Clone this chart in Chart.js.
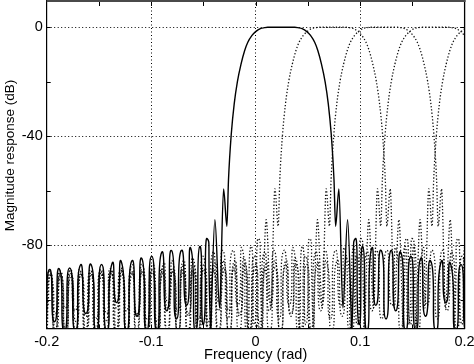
<!DOCTYPE html>
<html>
<head>
<meta charset="utf-8">
<script src="https://cdn.jsdelivr.net/npm/chart.js@4/dist/chart.umd.min.js"></script>
<style>
html,body{margin:0;padding:0;background:#fff;}
canvas{display:block;}
</style>
</head>
<body>
<canvas id="c" width="474" height="364"></canvas>
<script>
// ---- titles, tick labels / tick marks ----
const xTitle = 'Frequency (rad)';
const yTitle = 'Magnitude response (dB)';
const xTickLabels = [-0.2, -0.1, 0, 0.1, 0.2];
const yTickLabels = [-80, -40, 0];
const xTickMarks = [-0.15, -0.1, -0.05, 0, 0.05, 0.1, 0.15];
const yTickMarks = [0, -20, -40, -60, -80, -100];

// ---- channel centres (rad): first = solid prototype, rest = dotted shifted channels ----
const solidCenter = [0.0245];
const dottedCenters = [0.0736, 0.1227, 0.1718, 0.2209];

// ---- prototype magnitude response (offset from centre, dB) ----
const protoOffset = [
  0, 0.008, 0.013, 0.016, 0.020, 0.0245, 0.028, 0.032, 0.035, 0.0385, 0.042, 0.045, 0.0478, 0.0505,
  0.052, 0.0552, 0.059, 0.0635, 0.0675, 0.071, 0.0745, 0.078, 0.082, 0.0865, 0.0905, 0.0957,
  0.1003, 0.105, 0.1095, 0.1145, 0.119, 0.124, 0.1288, 0.1335, 0.138, 0.143, 0.148, 0.153,
  0.1575, 0.162, 0.167, 0.172, 0.177, 0.182, 0.187, 0.1923, 0.197, 0.2025, 0.2075, 0.2125,
  0.217, 0.222, 0.227, 0.2318, 0.2367, 0.2415, 0.2464, 0.2512, 0.2561, 0.261, 0.2658, 0.2707,
  0.2756, 0.2805, 0.2853, 0.2902, 0.2951, 0.3, 0.3049, 0.3097, 0.3146, 0.3195, 0.3244, 0.3292,
  0.3341, 0.339, 0.3439, 0.3487, 0.3536, 0.3585, 0.3634, 0.3682, 0.3731, 0.378, 0.3829, 0.3877,
  0.3926, 0.3975, 0.4024, 0.4072, 0.4121, 0.417, 0.4219, 0.4267, 0.4316, 0.4365, 0.4414
];
const protoDb = [
  0, 0, 0, -0.15, -0.5, -1.6, -3, -5.5, -8.5, -13.5, -20, -28, -39, -56,
  -73, -59.3, -103, -70.6, -112, -77.5, -109, -80.4, -111.5, -81.2, -102, -81.9,
  -107, -81.9, -104, -82.6, -111.5, -84, -111.5, -84.8, -106, -85.7, -111.5, -86.1,
  -101, -86.7, -111.5, -87, -111.5, -87.1, -105, -87.3, -111.5, -88.3, -111.5, -88.6,
  -108, -88.9, -111.5, -89, -111.5, -89.1, -104, -89.2, -111.5, -89.4, -111.5, -89.5,
  -107, -89.6, -111.5, -89.8, -111.5, -89.9, -103, -90, -111.5, -90.1, -111.5, -90.3,
  -106, -90.4, -111.5, -90.5, -111.5, -90.6, -105, -90.8, -111.5, -90.9, -111.5, -91,
  -108, -91.1, -111.5, -91.2, -111.5, -91.3, -104, -91.4, -111.5, -91.5, -111.5
];
// offset where the main-lobe region ends and the far sidelobes begin
const mainRegionEnd = 0.0675;

function channelSegments(c) {
  const k = protoOffset.indexOf(mainRegionEnd);
  const n = protoOffset.length;
  const left = [], main = [], right = [];
  for (let i = n - 1; i >= k; i--) left.push({x: c - protoOffset[i], y: protoDb[i]});
  for (let i = k; i > 0; i--) main.push({x: c - protoOffset[i], y: protoDb[i]});
  for (let i = 0; i <= k; i++) main.push({x: c + protoOffset[i], y: protoDb[i]});
  for (let i = k; i < n; i++) right.push({x: c + protoOffset[i], y: protoDb[i]});
  return {left, main, right};
}

const datasets = [];
function addChannel(c, style) {
  const s = channelSegments(c);
  datasets.push(Object.assign({data: s.main, cubicInterpolationMode: 'monotone'}, style));
  datasets.push(Object.assign({data: s.left, tension: 1}, style));
  datasets.push(Object.assign({data: s.right, tension: 1}, style));
}
const solidStyle = {borderColor: '#000', borderWidth: 1.4, pointRadius: 0, fill: false};
const dottedStyle = {borderColor: '#111', borderWidth: 1.3, borderDash: [1.3, 2], pointRadius: 0, fill: false};
solidCenter.forEach(c => addChannel(c, solidStyle));
dottedCenters.forEach(c => addChannel(c, dottedStyle));

const FAMILY = "'Liberation Sans', Arial, Helvetica, sans-serif";
const FONT = {family: FAMILY, size: 14.5};

const framePlugin = {
  id: 'framePlugin',
  afterDraw(chart) {
    const {ctx, chartArea: a, scales: {x, y}} = chart;
    ctx.save();
    ctx.strokeStyle = '#000';
    ctx.lineWidth = 1;
    ctx.beginPath();
    xTickMarks.forEach(v => {
      const p = Math.round(x.getPixelForValue(v)) + 0.5;
      ctx.moveTo(p, a.bottom); ctx.lineTo(p, a.bottom - 4);
      ctx.moveTo(p, a.top + 2); ctx.lineTo(p, a.top + 6);
    });
    yTickMarks.forEach(v => {
      const p = Math.round(y.getPixelForValue(v)) + 0.5;
      ctx.moveTo(a.left, p); ctx.lineTo(a.left + 4, p);
      ctx.moveTo(a.right, p); ctx.lineTo(a.right - 4, p);
    });
    ctx.stroke();
    // right border
    ctx.lineWidth = 1.3;
    ctx.beginPath();
    ctx.moveTo(a.right, a.top); ctx.lineTo(a.right, a.bottom + 0.5);
    ctx.stroke();
    // top border
    ctx.fillStyle = '#4a4a4a';
    ctx.fillRect(a.left, a.top, a.right - a.left + 1, 2);
    // y axis title
    ctx.translate(10, 155.5);
    ctx.rotate(-Math.PI / 2);
    ctx.fillStyle = '#000';
    ctx.font = '13.5px ' + FAMILY;
    ctx.textAlign = 'center';
    ctx.textBaseline = 'middle';
    ctx.fillText(yTitle, 0, 0);
    ctx.restore();
  }
};

new Chart(document.getElementById('c'), {
  type: 'line',
  data: {datasets},
  options: {
    responsive: false,
    animation: false,
    devicePixelRatio: 1,
    layout: {padding: 0},
    plugins: {legend: {display: false}, tooltip: {enabled: false}},
    elements: {line: {borderCapStyle: 'butt'}},
    scales: {
      x: {
        type: 'linear', min: -0.2, max: 0.2,
        afterBuildTicks: s => { s.ticks = xTickLabels.map(v => ({value: v})); },
        afterFit: s => { s.height = 35.5; s.paddingLeft = 0; s.paddingRight = 9.4; },
        ticks: {color: '#000', font: FONT, padding: 5, maxRotation: 0, autoSkip: false,
                callback: v => String(v)},
        grid: {color: '#000', lineWidth: 1, drawTicks: false},
        border: {display: true, color: '#000', width: 1.2, dash: [1, 2.5]},
        title: {display: true, text: xTitle, color: '#000', font: FONT, padding: {top: 0, bottom: 0}}
      },
      y: {
        type: 'linear', min: -110.5, max: 10,
        afterBuildTicks: s => { s.ticks = yTickLabels.map(v => ({value: v})); },
        afterFit: s => { s.width = 46.7; s.paddingTop = 0; s.paddingBottom = 0; },
        ticks: {color: '#000', font: FONT, padding: 4, callback: v => String(v)},
        grid: {color: '#000', lineWidth: 1, drawTicks: false},
        border: {display: true, color: '#000', width: 1.2, dash: [1, 2.5]},
        title: {display: false, text: yTitle}
      }
    }
  },
  plugins: [framePlugin]
});
</script>
</body>
</html>
